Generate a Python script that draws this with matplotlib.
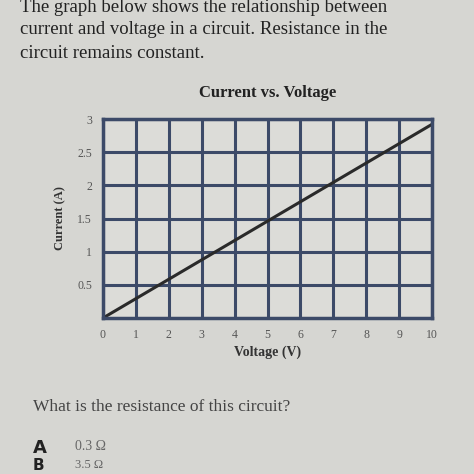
import matplotlib.pyplot as plt

voltage = [0, 10]
current = [0, 2.92]
x_ticks = list(range(0, 11))
y_ticks = [0.5, 1, 1.5, 2, 2.5, 3]
y_tick_labels = ['0.5', '1', '1.5', '2', '2.5', '3']

bg = '#d6d6d2'
ink = '#2a2a2a'
grid_col = '#3c4a68'

plt.rcParams['font.family'] = ['Liberation Serif', 'DejaVu Serif']

fig = plt.figure(figsize=(4.74, 4.74), dpi=100, facecolor=bg)
# axes in figure fractions: left 103px, right 432px, top 119px, bottom 318px
ax = fig.add_axes([103 / 474, 1 - 318 / 474, 329 / 474, 199 / 474])
ax.set_facecolor('#dcdcd8')

ax.plot(voltage, current, color=ink, lw=2.2, solid_capstyle='round')
ax.set_xlim(0, 10)
ax.set_ylim(0, 3)
ax.set_xticks(x_ticks)
ax.set_yticks(y_ticks)
ax.set_yticklabels(y_tick_labels)
ax.grid(True, color=grid_col, lw=2.2)
ax.tick_params(length=0, colors='#555555', labelsize=8.5, pad=8)
for s in ax.spines.values():
    s.set_color(grid_col)
    s.set_linewidth(2.5)
ax.set_xlabel('Voltage (V)', fontsize=10, fontweight='bold', color='#333333', labelpad=3)
ax.set_ylabel('Current (A)', fontsize=9, fontweight='bold', color='#333333', labelpad=8)
ax.set_title('Current vs. Voltage', fontsize=12, fontweight='bold', color='#222222', pad=16)

fs = 13.5
fig.text(20 / 474, 1 - 8 / 474, 'The graph below shows the relationship between',
         fontsize=fs, color='#222222', va='center')
fig.text(20 / 474, 1 - 30 / 474, 'current and voltage in a circuit. Resistance in the',
         fontsize=fs, color='#222222', va='center')
fig.text(20 / 474, 1 - 53 / 474, 'circuit remains constant.',
         fontsize=fs, color='#222222', va='center')
fig.text(33 / 474, 1 - 407 / 474, 'What is the resistance of this circuit?',
         fontsize=12.5, color='#444444', va='center')
fig.text(33 / 474, 1 - 448 / 474, 'A', fontsize=13, fontweight='bold',
         family='DejaVu Sans', color='#222222', va='center')
fig.text(75 / 474, 1 - 447 / 474, '0.3 Ω', fontsize=10, color='#666666', va='center')
fig.text(33 / 474, 1 - 465 / 474, 'B', fontsize=11, fontweight='bold',
         family='DejaVu Sans', color='#222222', va='center')
fig.text(75 / 474, 1 - 465 / 474, '3.5 Ω', fontsize=9, color='#666666', va='center')

fig.savefig('out.png', dpi=100, facecolor=bg)
